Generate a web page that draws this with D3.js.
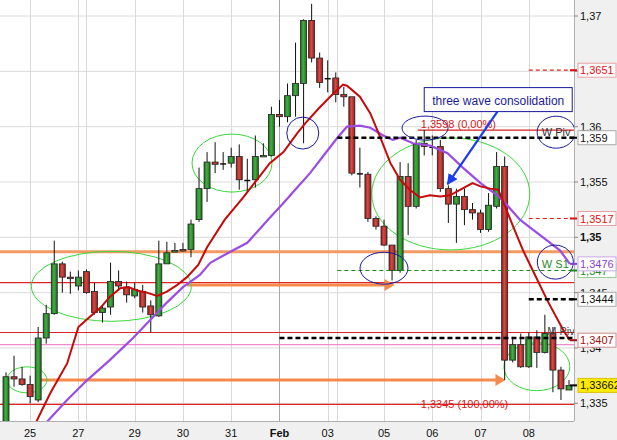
<!DOCTYPE html>
<html><head><meta charset="utf-8">
<script src="https://cdn.jsdelivr.net/npm/d3@7"></script>
<style>body{margin:0;background:#f0f0f0;} svg{display:block;font-family:"Liberation Sans",Arial,sans-serif;}</style>
</head><body><svg id="c" width="617" height="440"></svg>
<script>
// ---------- DATA ----------
const open  = [1.3327,1.3374,1.3372,1.3367,1.3353,1.3409,1.3431,1.3476,1.3464,1.3456,1.3469,1.3451,1.3432,1.3437,1.3460,1.3455,1.3447,1.3451,1.3438,1.3429,1.3476,1.3487,1.3489,1.3489,1.3516,1.3544,1.3568,1.3567,1.3567,1.3573,1.3552,1.3552,1.3573,1.3574,1.3611,1.3609,1.3628,1.3639,1.3696,1.3662,1.3644,1.3644,1.3629,1.3627,1.3558,1.3557,1.3517,1.3510,1.3493,1.3470,1.3555,1.3528,1.3585,1.3582,1.3582,1.3544,1.3530,1.3537,1.3525,1.3522,1.3507,1.3528,1.3564,1.3389,1.3403,1.3383,1.3410,1.3396,1.3413,1.3380,1.3362];
const high  = [1.3378,1.3393,1.3383,1.3375,1.3419,1.3439,1.3497,1.3478,1.3469,1.3470,1.3471,1.3459,1.3439,1.3477,1.3470,1.3460,1.3459,1.3457,1.3443,1.3497,1.3496,1.3495,1.3495,1.3516,1.3563,1.3577,1.3586,1.3577,1.3581,1.3584,1.3571,1.3592,1.3585,1.3618,1.3624,1.3639,1.3676,1.3697,1.3711,1.3667,1.3660,1.3649,1.3636,1.3627,1.3581,1.3559,1.3519,1.3516,1.3493,1.3568,1.3567,1.3588,1.3597,1.3592,1.3588,1.3547,1.3544,1.3544,1.3531,1.3525,1.3540,1.3577,1.3573,1.3410,1.3413,1.3414,1.3416,1.3430,1.3419,1.3383,1.3371];
const low   = [1.3322,1.3365,1.3366,1.3350,1.3351,1.3404,1.3430,1.3450,1.3449,1.3452,1.3449,1.3430,1.3423,1.3430,1.3452,1.3441,1.3445,1.3432,1.3414,1.3428,1.3476,1.3487,1.3487,1.3482,1.3514,1.3532,1.3558,1.3561,1.3563,1.3543,1.3541,1.3545,1.3573,1.3573,1.3600,1.3604,1.3609,1.3585,1.3658,1.3635,1.3631,1.3622,1.3618,1.3556,1.3545,1.3514,1.3507,1.3492,1.3461,1.3468,1.3502,1.3526,1.3574,1.3574,1.3541,1.3513,1.3495,1.3511,1.3516,1.3504,1.3505,1.3526,1.3371,1.3387,1.3382,1.3382,1.3382,1.3395,1.3360,1.3353,1.3362];
const close = [1.3374,1.3372,1.3367,1.3356,1.3409,1.3431,1.3476,1.3464,1.3463,1.3464,1.3450,1.3432,1.3436,1.3460,1.3456,1.3448,1.3453,1.3437,1.3430,1.3476,1.3486,1.3488,1.3488,1.3512,1.3544,1.3568,1.3566,1.3567,1.3573,1.3552,1.3552,1.3573,1.3574,1.3611,1.3609,1.3628,1.3639,1.3696,1.3662,1.3640,1.3644,1.3629,1.3627,1.3558,1.3558,1.3517,1.3510,1.3493,1.3470,1.3555,1.3528,1.3584,1.3582,1.3582,1.3544,1.3530,1.3537,1.3525,1.3522,1.3507,1.3529,1.3564,1.3389,1.3403,1.3383,1.3410,1.3396,1.3413,1.3380,1.3363,1.33662];

const maFastIdx = [3.0,5.5,7.6,9.0,10.4,11.7,12.9,14.2,15.2,16.3,17.5,18.8,20.0,21.3,22.5,23.9,25.0,27.2,29.5,31.2,32.8,34.5,36.2,37.2,38.7,40.3,41.9,42.4,44.0,45.3,46.5,47.8,49.0,50.2,51.5,52.7,54.0,55.2,56.5,58.0,59.0,60.2,61.2,62.1,63.1,64.3,65.5,67.3,69.3,70.1];
const maFastVal = [1.3322,1.3359,1.3386,1.3419,1.3428,1.3436,1.3446,1.3454,1.3455,1.3452,1.3450,1.3447,1.3451,1.3457,1.3464,1.3475,1.3491,1.3516,1.3536,1.3552,1.3567,1.3577,1.3594,1.3603,1.3615,1.3627,1.3638,1.3637,1.3627,1.3612,1.3591,1.3567,1.3552,1.3543,1.3536,1.3538,1.3537,1.3538,1.3543,1.3549,1.3546,1.3544,1.3543,1.3527,1.3509,1.3488,1.3470,1.3443,1.3416,1.3407];
const maSlowIdx = [4.3,7.6,10.1,12.9,15.8,17.9,20.0,22.0,24.1,25.4,27.9,30.0,32.6,34.5,36.2,37.8,39.4,41.2,42.4,44.0,45.3,46.9,48.1,49.0,50.6,52.7,54.9,56.8,59.0,61.1,62.3,63.9,65.5,67.3,68.9,70.1];
const maSlowVal = [1.3327,1.3353,1.3371,1.3389,1.3409,1.3425,1.3441,1.3455,1.3466,1.3477,1.3487,1.3495,1.3516,1.3531,1.3545,1.3558,1.3573,1.3590,1.3600,1.3601,1.3599,1.3592,1.3588,1.3590,1.3585,1.3583,1.3576,1.3563,1.3549,1.3538,1.3529,1.3516,1.3507,1.3497,1.3488,1.3476];

const xTickIdx    = [3,9,16,22,28,34,40,47,53,59,65];
const xTickLabels = ["25","27","29","30","31","Feb","03","05","06","07","08"];
const extraGridIdx = [10,41.2];
const yTicks      = [1.335,1.34,1.345,1.35,1.355,1.36,1.365,1.37];
const yTickLabels = ["1,335","1,34","1,345","1,35","1,355","1,36","1,365","1,37"];

const supportLevel = 1.3487;
const redLevels    = [1.3459,1.3414,1.3349];
const pinkLevel    = 1.3403;
const arrowLevels  = [1.3457,1.3371];
const arrowFrom    = [22.5,4.0];
const arrowTo      = [48.3,62.1];
const pivotLevels  = [1.359,1.3409,1.3444];
const pivotFrom    = [41.2,34,65];
const redDashLevels= [1.3651,1.3517];
const redDashFrom  = 65;
const ws1Level     = 1.347;
const ws1From      = 41.2;
const fibLevels    = [1.35969,1.3349];
const fibLabels    = ["1,3598 (0,00%)","1,3345 (100,00%)"];
const fibFrom      = 51.2;
const boxValues    = [1.347,1.3651,1.359,1.3517,1.3476,1.3444,1.3407,1.33662];
const boxLabels    = ["1,347","1,3651","1,359","1,3517","1,3476","1,3444","1,3407","1,33662"];

// ---------- CHART ----------
const W=617,H=440,PR=574,PB=421;
const svg=d3.select("#c");
const x=d3.scaleLinear().domain([0,70]).range([6,569]);
const y=d3.scaleLinear().domain([1.335,1.37]).range([403.3,16]);

svg.append("rect").attr("width",W).attr("height",H).attr("fill","#f0f0f0");
svg.append("rect").attr("width",PR).attr("height",PB).attr("fill","#fff");
const defs=svg.append("defs");
defs.append("clipPath").attr("id","clip").append("rect").attr("width",PR).attr("height",PB);
const gG=defs.append("linearGradient").attr("id","gg");
[["0%","#1d6b1d"],["45%","#43b043"],["100%","#1d6b1d"]].forEach(s=>gG.append("stop").attr("offset",s[0]).attr("stop-color",s[1]));
const gR=defs.append("linearGradient").attr("id","gr");
[["0%","#8e1c1c"],["45%","#d94a44"],["100%","#8e1c1c"]].forEach(s=>gR.append("stop").attr("offset",s[0]).attr("stop-color",s[1]));

const g=svg.append("g").attr("clip-path","url(#clip)");

// grid
g.selectAll(".hg").data(yTicks).join("line").attr("x1",0).attr("x2",PR)
 .attr("y1",d=>y(d)).attr("y2",d=>y(d)).attr("stroke","#dadada");
g.selectAll(".vg").data(xTickIdx.concat(extraGridIdx)).join("line")
 .attr("x1",d=>Math.round(x(d))+0.5).attr("x2",d=>Math.round(x(d))+0.5).attr("y1",0).attr("y2",PB)
 .attr("stroke",(d,i)=>xTickLabels[i]==="Feb"?"#a8a8a8":"#dadada");

// full-width levels
g.append("line").attr("x1",0).attr("x2",PR).attr("y1",y(supportLevel)).attr("y2",y(supportLevel))
 .attr("stroke","#f39a62").attr("stroke-width",3);
g.selectAll(".rl").data(redLevels).join("line").attr("x1",0).attr("x2",PR)
 .attr("y1",d=>y(d)).attr("y2",d=>y(d)).attr("stroke","#e02424").attr("stroke-width",1.2);
g.append("line").attr("x1",0).attr("x2",PR).attr("y1",y(pinkLevel)).attr("y2",y(pinkLevel))
 .attr("stroke","#f08ccc").attr("stroke-width",1.2);

// orange arrows
arrowLevels.forEach((v,i)=>{
  const yy=y(v), x1=x(arrowFrom[i]), x2=x(arrowTo[i]);
  g.append("line").attr("x1",x1).attr("x2",x2-8).attr("y1",yy).attr("y2",yy).attr("stroke","#f58a4c").attr("stroke-width",3);
  g.append("path").attr("d",`M${x2-10},${yy-6}L${x2},${yy}L${x2-10},${yy+6}Z`).attr("fill","#f58a4c");
});

// fib 0% line
g.append("line").attr("x1",x(fibFrom)).attr("x2",PR).attr("y1",y(fibLevels[0])).attr("y2",y(fibLevels[0]))
 .attr("stroke","#d42020").attr("stroke-width",1.2);

// green ellipses (index, price centers)
const greenEll=[[2.6,1.33712,20,13],[13.1,1.34557,80,35],[28.1,1.35671,40,29],[55.3,1.35392,79,56],[66.0,1.33831,33,24]];
g.selectAll(".ge").data(greenEll).join("ellipse").attr("cx",d=>x(d[0])).attr("cy",d=>y(d[1]))
 .attr("rx",d=>d[2]).attr("ry",d=>d[3]).attr("fill","none").attr("stroke","#3ad83a").attr("stroke-width",1);

// candles
const idx=d3.range(open.length);
g.selectAll(".wk").data(idx).join("line").attr("x1",i=>x(i)).attr("x2",i=>x(i))
 .attr("y1",i=>y(high[i])).attr("y2",i=>y(low[i])).attr("stroke","#111").attr("stroke-width",1);
g.selectAll(".bd").data(idx).join("rect")
 .attr("x",i=>x(i)-3).attr("width",6)
 .attr("y",i=>Math.min(y(open[i]),y(close[i])))
 .attr("height",i=>Math.max(1.5,Math.abs(y(open[i])-y(close[i]))))
 .attr("fill",i=>Math.abs(open[i]-close[i])<0.00005?"#111":(close[i]>open[i]?"url(#gg)":"url(#gr)"))
 .attr("stroke",i=>Math.abs(open[i]-close[i])<0.00005?"none":"#222").attr("stroke-width",0.8);

// moving averages
const ln=d3.line().x(d=>x(d[0])).y(d=>y(d[1]));
g.append("path").attr("d",ln(maSlowIdx.map((d,i)=>[d,maSlowVal[i]]))).attr("fill","none")
 .attr("stroke","#9b4de2").attr("stroke-width",2.2);
g.append("path").attr("d",ln(maFastIdx.map((d,i)=>[d,maFastVal[i]]))).attr("fill","none")
 .attr("stroke","#c40a0a").attr("stroke-width",2);

// dashed levels
pivotLevels.forEach((v,i)=>g.append("line").attr("x1",x(pivotFrom[i])).attr("x2",PR).attr("y1",y(v)).attr("y2",y(v))
 .attr("stroke","#000").attr("stroke-width",2.5).attr("stroke-dasharray","5,3"));
redDashLevels.forEach(v=>g.append("line").attr("x1",x(redDashFrom)).attr("x2",PR).attr("y1",y(v)).attr("y2",y(v))
 .attr("stroke","#e02020").attr("stroke-width",1.2).attr("stroke-dasharray","4,3"));
g.append("line").attr("x1",x(ws1From)).attr("x2",PR).attr("y1",y(ws1Level)).attr("y2",y(ws1Level))
 .attr("stroke","#1c8c1c").attr("stroke-width",1).attr("stroke-dasharray","4,3");

// blue ellipses
const blueEll=[[36.9,1.35942,16,16],[52.1,1.35987,23,12],[68.4,1.3595,19,16],[68.3,1.34776,18,17],[47.0,1.34721,24,16]];
g.selectAll(".be").data(blueEll).join("ellipse").attr("cx",d=>x(d[0])).attr("cy",d=>y(d[1]))
 .attr("rx",d=>d[2]).attr("ry",d=>d[3]).attr("fill","none").attr("stroke","#1a1a9c").attr("stroke-width",1);

// fib labels
fibLabels.forEach((t,i)=>g.append("text").attr("x",x(fibFrom)+3).attr("y",y(fibLevels[i])+(i===0?-2:4))
 .attr("fill","#d42020").attr("font-size",11).text(t));

// pivot texts
g.append("text").attr("x",x(68.4)).attr("y",y(1.3595)+4).attr("text-anchor","middle").attr("font-size",11).attr("fill","#333").text("W Piv");
g.append("text").attr("x",x(68.3)).attr("y",y(1.34776)+6).attr("text-anchor","middle").attr("font-size",11).attr("fill","#1f8a1f").text("W S1");
g.append("text").attr("x",x(69.0)).attr("y",y(1.3414)+3).attr("text-anchor","middle").attr("font-size",11).attr("fill","#444").text("M Piv");

// annotation box + arrow
const bx=x(52.0), by=y(1.36353), bw=148, bh=24;
g.append("rect").attr("x",bx).attr("y",by).attr("width",bw).attr("height",bh).attr("fill","#fff").attr("stroke","#1a1a9c");
g.append("text").attr("x",bx+bw/2).attr("y",by+17).attr("text-anchor","middle").attr("font-size",12).attr("fill","#1a1a9c").text("three wave consolidation");
defs.append("marker").attr("id","ah").attr("viewBox","0 0 10 10").attr("refX",9).attr("refY",5)
 .attr("markerWidth",5).attr("markerHeight",5).attr("orient","auto")
 .append("path").attr("d","M0,0L10,5L0,10Z").attr("fill","#1c3cf0");
g.append("line").attr("x1",x(61.1)).attr("y1",y(1.36353)+bh).attr("x2",x(54.9)).attr("y2",y(1.3548))
 .attr("stroke","#1c3cf0").attr("stroke-width",2.2).attr("marker-end","url(#ah)");

// axes frame
svg.append("line").attr("x1",PR+0.5).attr("x2",PR+0.5).attr("y1",0).attr("y2",PB).attr("stroke","#b0b0b0");
svg.append("line").attr("x1",0).attr("x2",PR).attr("y1",PB+0.5).attr("y2",PB+0.5).attr("stroke","#b0b0b0");

// right axis ticks/labels
yTicks.forEach((v,i)=>{
  svg.append("line").attr("x1",PR).attr("x2",PR+4).attr("y1",y(v)).attr("y2",y(v)).attr("stroke","#888");
  svg.append("text").attr("x",PR+6).attr("y",y(v)+4).attr("font-size",11)
   .attr("font-weight",yTickLabels[i]==="1,35"?"bold":"normal").attr("fill","#111").text(yTickLabels[i]);
});
// value boxes
const boxStyle={"1,347":["#1c8c1c","#fff","#9c9"],"1,3651":["#e01010","#fff","#e9a0a0"],"1,359":["#111","#fff","#aaa"],
 "1,3517":["#e01010","#fff","#e9a0a0"],"1,3476":["#8a3fd0","#fff","#c8a8e8"],"1,3444":["#111","#fff","#aaa"],
 "1,3407":["#a01010","#fff","#d09090"],"1,33662":["#111","#ffec00","#d8c000"]};
boxValues.forEach((v,i)=>{
  const t=boxLabels[i], s=boxStyle[t], yy=y(v);
  svg.append("line").attr("x1",PR-4).attr("x2",PR+3).attr("y1",yy).attr("y2",yy).attr("stroke",s[0]==="#111"?"#000":s[0]).attr("stroke-width",2);
  svg.append("rect").attr("x",PR+4).attr("y",yy-7).attr("width",t.length>6?40:38).attr("height",14)
   .attr("fill",s[1]).attr("stroke",s[2]);
  svg.append("text").attr("x",PR+6).attr("y",yy+4).attr("font-size",11).attr("fill",s[0]).text(t);
});

// x axis labels
xTickIdx.forEach((d,i)=>{
  svg.append("text").attr("x",x(d)).attr("y",437).attr("text-anchor","middle").attr("font-size",11)
   .attr("font-weight",xTickLabels[i]==="Feb"?"bold":"normal").attr("fill","#111").text(xTickLabels[i]);
});
</script></body></html>
